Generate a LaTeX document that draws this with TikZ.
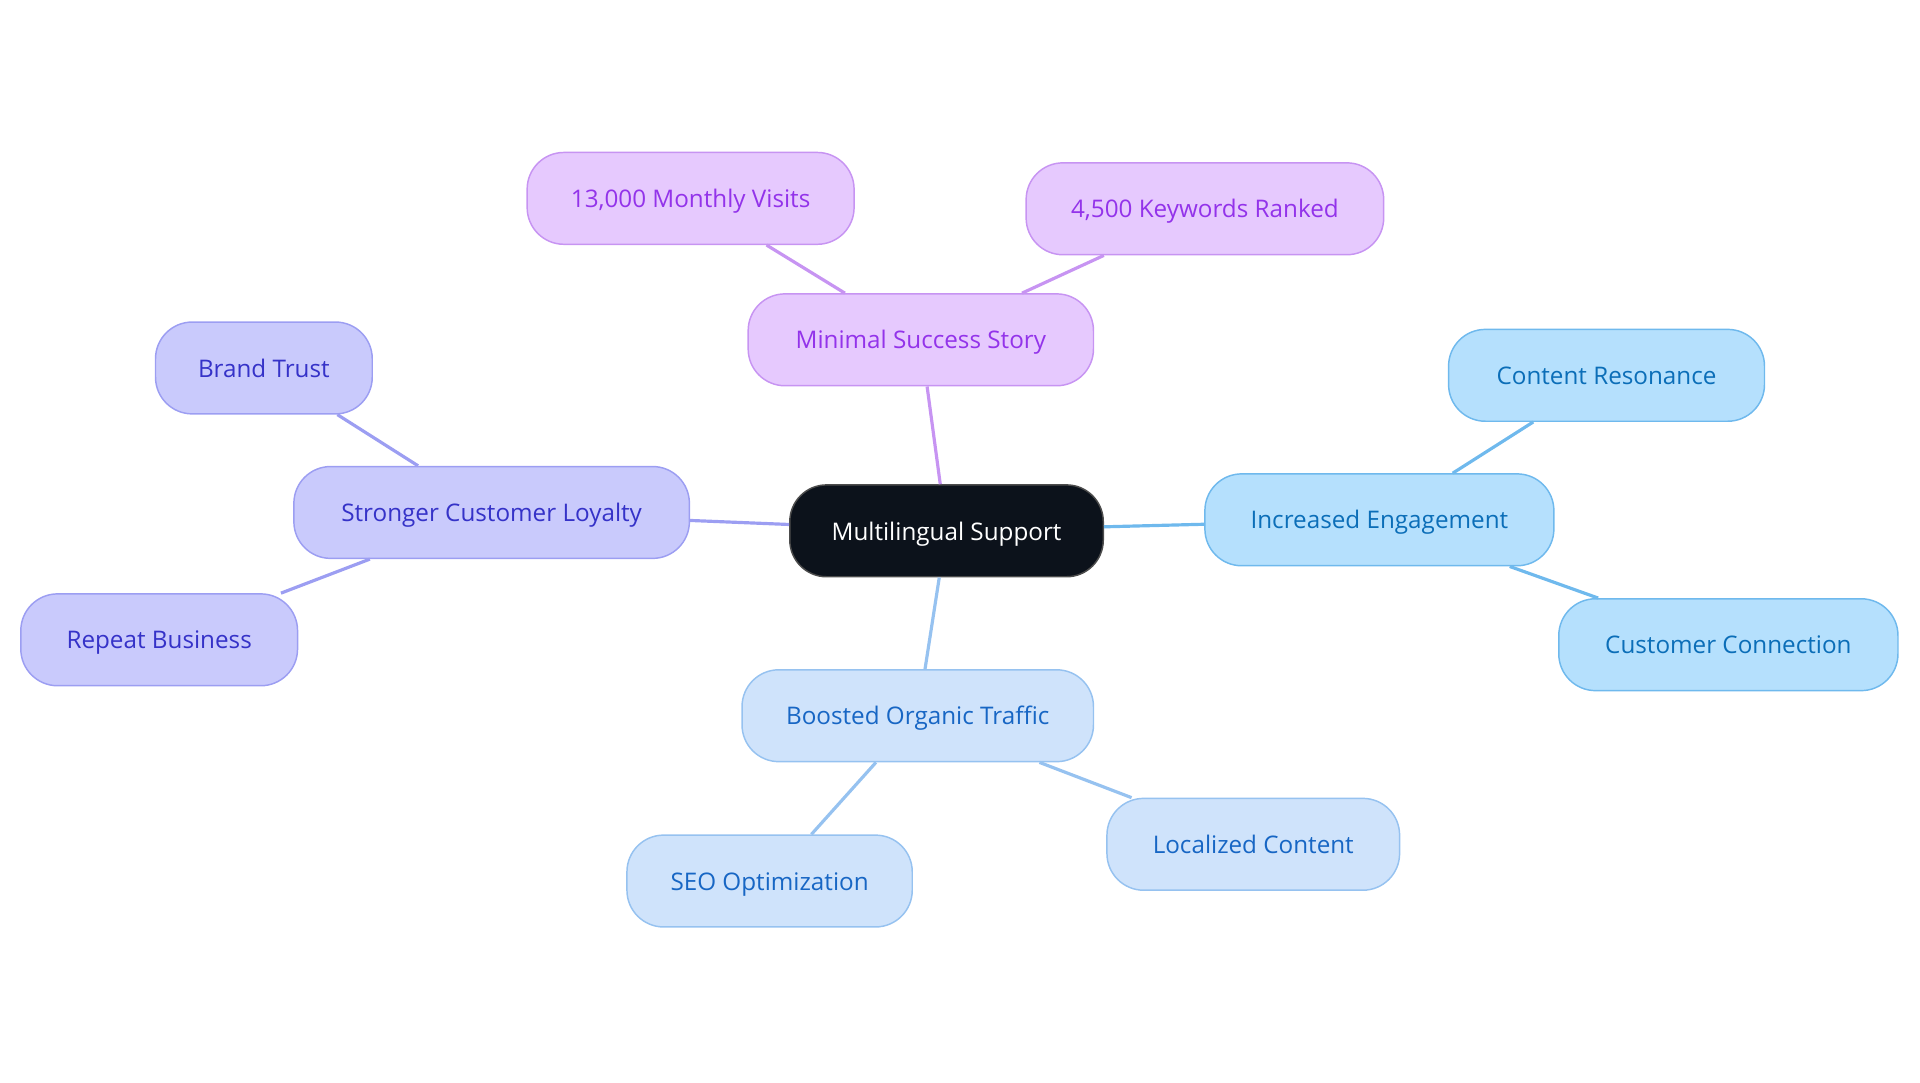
\documentclass[tikz,border=0pt]{standalone}
\usepackage{fontspec}
\setmainfont{Open Sans}
\definecolor{purF}{HTML}{E6C9FE}
\definecolor{purB}{HTML}{C794F2}
\definecolor{purT}{HTML}{9333EA}
\definecolor{indF}{HTML}{C9CAFC}
\definecolor{indB}{HTML}{9C9EF2}
\definecolor{indT}{HTML}{3532C8}
\definecolor{bluF}{HTML}{CFE3FB}
\definecolor{bluB}{HTML}{96C2F0}
\definecolor{bluT}{HTML}{1766C4}
\definecolor{skyF}{HTML}{B5E0FD}
\definecolor{skyB}{HTML}{6FB9ED}
\definecolor{skyT}{HTML}{0B6EB8}
\definecolor{cenF}{HTML}{0C121B}
\tikzset{
  x=1pt,y=-1pt,
  base/.style={rounded corners=30pt, minimum height=75pt, line width=1.2pt, font=\fontsize{19.8}{22}\selectfont, inner sep=0pt, text height=15pt, text depth=0pt},
  cen/.style={base, fill=cenF, draw=black!70, text=white},
  pur/.style={base, fill=purF, draw=purB, text=purT},
  ind/.style={base, fill=indF, draw=indB, text=indT},
  blu/.style={base, fill=bluF, draw=bluB, text=bluT},
  sky/.style={base, fill=skyF, draw=skyB, text=skyT},
  epur/.style={draw=purB, line width=2.6pt},
  eind/.style={draw=indB, line width=2.6pt},
  eblu/.style={draw=bluB, line width=2.6pt},
  esky/.style={draw=skyB, line width=2.6pt},
}
\begin{document}
\begin{tikzpicture}
\useasboundingbox (0,0) rectangle (1568,884.4);
\node[cen, minimum width=256pt] (c) at (773,433.5) {Multilingual Support};
\node[pur, minimum width=282pt] (ms) at (752,277.5) {Minimal Success Story};
\node[pur, minimum width=267pt] (mv) at (564,162) {13,000 Monthly Visits};
\node[pur, minimum width=292pt] (kr) at (984,170.5) {4,500 Keywords Ranked};
\node[ind, minimum width=323pt] (sl) at (401.5,418.5) {Stronger Customer Loyalty};
\node[ind, minimum width=177pt] (bt) at (215.5,300.5) {Brand Trust};
\node[ind, minimum width=226pt] (rb) at (130,522.5) {Repeat Business};
\node[sky, minimum width=285pt] (ie) at (1126.5,424.5) {Increased Engagement};
\node[sky, minimum width=258pt] (cr) at (1312,306.5) {Content Resonance};
\node[sky, minimum width=277pt] (cc) at (1411.5,526.5) {Customer Connection};
\node[blu, minimum width=287pt] (bo) at (749.5,584.5) {Boosted Organic Traffic};
\node[blu, minimum width=233pt] (seo) at (628.5,719.5) {SEO Optimization};
\node[blu, minimum width=239pt] (lc) at (1023.5,689.5) {Localized Content};
\draw[epur] (c) -- (ms);
\draw[epur] (ms) -- (mv);
\draw[epur] (ms) -- (kr);
\draw[eind] (c) -- (sl);
\draw[eind] (sl) -- (bt);
\draw[eind] (sl) -- (rb);
\draw[esky] (c) -- (ie);
\draw[esky] (ie) -- (cr);
\draw[esky] (ie) -- (cc);
\draw[eblu] (c) -- (bo);
\draw[eblu] (bo) -- (seo);
\draw[eblu] (bo) -- (lc);
\end{tikzpicture}
\end{document}
